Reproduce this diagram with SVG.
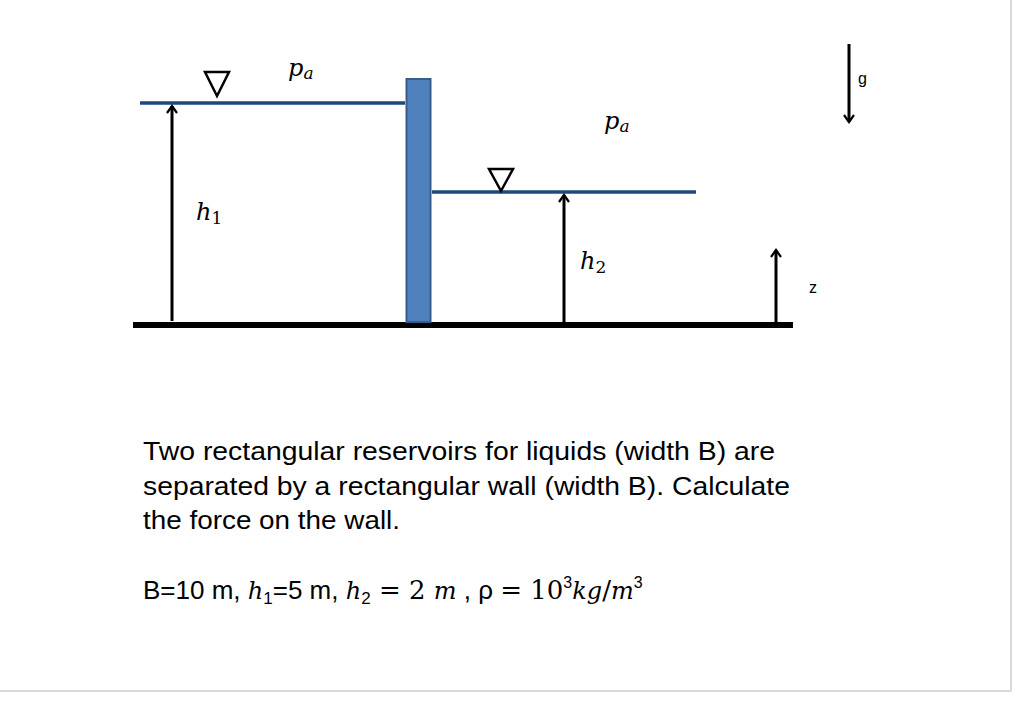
<svg xmlns="http://www.w3.org/2000/svg" width="1024" height="701" viewBox="0 0 1024 701">
<defs>
<style>
.w{stroke:#1F497D;stroke-width:3.5;fill:none}
.a{stroke:#000;stroke-width:3;fill:none}
.m{font-family:"DejaVu Serif","Liberation Serif",serif;font-style:italic;font-size:24px}
.t{font-family:"Liberation Sans",Arial,sans-serif;font-size:26px}
.tri{fill:#fff;stroke:#000;stroke-width:2.5}
</style>
<marker id="ah" viewBox="0 0 12 12" refX="10" refY="6" markerWidth="12" markerHeight="12" markerUnits="userSpaceOnUse" orient="auto"><path d="M3,1 L10,6 L3,11" fill="none" stroke="#000" stroke-width="2.2"/></marker>
</defs>
<rect width="1024" height="701" fill="#fff"/>
<path d="M1011,0 V691 H0" fill="none" stroke="#d9d9d9" stroke-width="2"/>
<g id="ground"><line x1="133" y1="325" x2="793" y2="325" stroke="#000" stroke-width="6"/></g>
<g id="wall"><rect x="406.5" y="79" width="24" height="243" fill="#4F81BD" stroke="#385D8A" stroke-width="2"/></g>
<g id="water1"><line class="w" x1="140" y1="103" x2="405" y2="103"/><path class="tri" d="M205,72 H229 L217,96 Z"/></g>
<g id="water2"><line class="w" x1="432" y1="192" x2="696" y2="192"/><path class="tri" d="M489,169 H513 L501,191 Z"/></g>
<g id="connectors">
<line class="a" x1="172" y1="321" x2="172" y2="106" marker-end="url(#ah)"/>
<line class="a" x1="564" y1="322" x2="564" y2="195" marker-end="url(#ah)"/>
<line class="a" x1="776" y1="322" x2="776" y2="250" marker-end="url(#ah)"/>
<line class="a" x1="849" y1="44" x2="849" y2="122" marker-end="url(#ah)"/>
</g>
<g id="labels">
<text class="m" x="288" y="76">p<tspan font-size="17" dy="3">a</tspan></text>
<text class="m" x="604" y="129">p<tspan font-size="17" dy="3">a</tspan></text>
<text class="m" x="196" y="220">h<tspan font-size="17" dy="4" font-style="normal">1</tspan></text>
<text class="m" x="580" y="269">h<tspan font-size="17" dy="4" font-style="normal">2</tspan></text>
<text x="809" y="293" font-family="Liberation Sans,sans-serif" font-size="16">z</text>
<text x="858" y="84" font-family="Liberation Sans,sans-serif" font-size="16">g</text>
<text class="t" x="143" y="460" textLength="632" lengthAdjust="spacingAndGlyphs">Two rectangular reservoirs for liquids (width B) are</text>
<text class="t" x="143" y="495" textLength="647" lengthAdjust="spacingAndGlyphs">separated by a rectangular wall (width B). Calculate</text>
<text class="t" x="143" y="529" textLength="257" lengthAdjust="spacingAndGlyphs">the force on the wall.</text>
<text class="t" x="143" y="599">B=10 m, <tspan class="m" font-size="26">h</tspan><tspan font-size="17" dy="5">1</tspan><tspan dy="-5">=5 m, </tspan><tspan class="m" font-size="26">h</tspan><tspan font-size="17" dy="5">2</tspan><tspan dy="-5" font-family="DejaVu Serif,serif" font-size="26"> = 2 </tspan><tspan class="m" font-size="26">m</tspan><tspan> , ρ </tspan><tspan font-family="DejaVu Serif,serif" font-size="26">= 10</tspan><tspan font-size="16" dy="-11">3</tspan><tspan class="m" font-size="26" dy="11">kg</tspan><tspan font-family="DejaVu Serif,serif" font-size="26">/</tspan><tspan class="m" font-size="26">m</tspan><tspan font-size="16" dy="-11">3</tspan></text>
</g>
</svg>
